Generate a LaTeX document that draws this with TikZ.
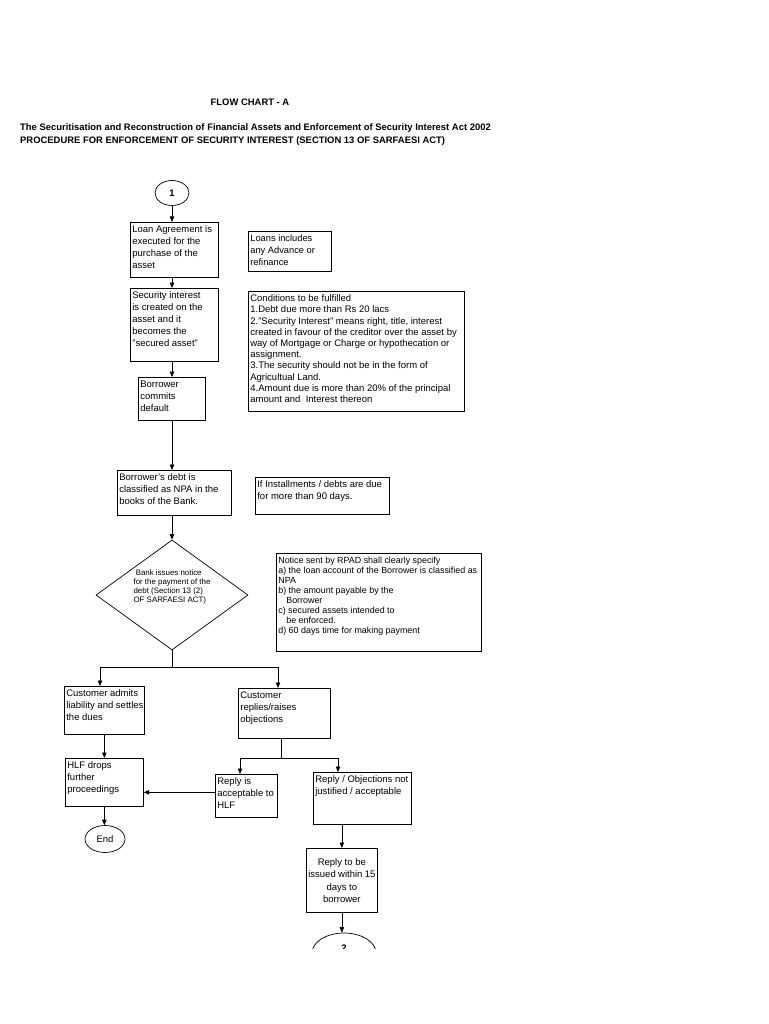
\documentclass[tikz,border=0pt]{standalone}
\usepackage{fontspec}
\setmainfont{Liberation Sans}
\usetikzlibrary{shapes.geometric, arrows.meta}

% text block of fixed size, set from the top left corner
\newcommand{\flowtext}[3]{\parbox[t][#2][t]{#1}{\raggedright\vspace*{1.5pt}#3}}
\newcommand{\boxfont}{\fontsize{9.5}{12}\selectfont}

\begin{document}
\begin{tikzpicture}[x=1pt, y=-1pt,
    every node/.style={font=\boxfont},
    flowbox/.style={draw, line width=0.7pt, inner sep=2pt, anchor=north west},
    terminal/.style={draw, ellipse, line width=0.7pt, inner sep=0pt, font=\boxfont\bfseries},
    decision/.style={draw, diamond, line width=0.7pt, inner sep=0pt,
      minimum width=152pt, minimum height=110pt},
    headtext/.style={font=\fontsize{9.43}{11}\selectfont\bfseries, inner sep=0pt},
    line/.style={line width=0.7pt},
    arr/.style={line, -{Triangle[length=5.5pt, width=4.5pt]}}]
  \useasboundingbox (0,0) rectangle (768,1024);

  % headings
  \node[headtext] (title) at (250,102) {FLOW CHART - A};
  \node[headtext, anchor=west] (act) at (20,128)
    {The Securitisation and Reconstruction of Financial Assets and Enforcement of Security Interest Act 2002};
  \node[headtext, anchor=west] (proc) at (20,141)
    {PROCEDURE FOR ENFORCEMENT OF SECURITY INTEREST (SECTION 13 OF SARFAESI ACT)};

  % main column
  \node[terminal, minimum width=34pt, minimum height=25pt] (c1) at (172,193) {1};
  \node[flowbox] (b1) at (130,222) {\flowtext{84pt}{51pt}{Loan Agreement is\\executed for the\\purchase of the\\asset}};
  \node[flowbox] (b2) at (130,288) {\flowtext{84pt}{69pt}{Security interest\\is created on the\\asset and it\\becomes the\\"secured asset"}};
  \node[flowbox] (b3) at (138,377) {\flowtext{63pt}{39pt}{Borrower\\commits\\default}};
  \node[flowbox] (b4) at (117,470) {\flowtext{110pt}{41pt}{Borrower's debt is\\classified as NPA in the\\books of the Bank.}};
  \node[decision, label={[font=\fontsize{7.9}{9}\selectfont, align=left, yshift=8pt]center:{%
      \ Bank issues notice\\for the payment of the\\debt (Section 13 (2)\\OF SARFAESI ACT)}}] (dia) at (172,595) {};

  % notes on the right
  \node[flowbox] (n1) at (248,231) {\flowtext{79pt}{36pt}{\fontsize{9.3}{12}\selectfont Loans includes\\any Advance or\\refinance}};
  \node[flowbox] (n2) at (248,291) {\flowtext{212pt}{116pt}{\fontsize{9.5}{11.2}\selectfont
    Conditions to be fulfilled\\
    1.Debt due more than Rs 20 lacs\\
    2."Security Interest" means right, title, interest\\
    created in favour of the creditor over the asset by\\
    way of Mortgage or Charge or hypothecation or\\
    assignment.\\
    3.The security should not be in the form of\\
    Agricultual Land.\\
    4.Amount due is more than 20\% of the principal\\
    amount and\ \ Interest thereon}};
  \node[flowbox] (n3) at (255,477) {\flowtext{130pt}{33pt}{If Installments / debts are due\\for more than 90 days.}};
  \node[flowbox] (n4) at (276,553) {\flowtext{201pt}{94pt}{\fontsize{8.9}{10}\selectfont
    Notice sent by RPAD shall clearly specify\\
    a) the loan account of the Borrower is classified as\\
    NPA\\
    b) the amount payable by the\\
    \hspace*{8pt}Borrower\\
    c) secured assets intended to\\
    \hspace*{8pt}be enforced.\\
    d) 60 days time for making payment}};

  % branches
  \node[flowbox] (b5) at (64,686) {\flowtext{76pt}{44pt}{Customer admits\\\mbox{liability and settles}\\the dues}};
  \node[flowbox] (b6) at (238,688) {\flowtext{88pt}{46pt}{Customer\\replies/raises\\objections}};
  \node[flowbox] (b7) at (65,758) {\flowtext{74pt}{44pt}{HLF drops\\further\\proceedings}};
  \node[flowbox] (b8) at (215,774) {\flowtext{58pt}{39pt}{Reply is\\acceptable to\\HLF}};
  \node[flowbox] (b9) at (313,772) {\flowtext{94pt}{48pt}{Reply / Objections not\\justified / acceptable}};
  \node[terminal, font=\boxfont, minimum width=40pt, minimum height=27pt] (end) at (105,839) {End};
  \node[flowbox] (b10) at (306,848) {\parbox[t][60pt][t]{67pt}{\centering\fontsize{9.5}{12.5}\selectfont
    \vspace*{8pt}Reply to be\\issued within 15\\days to\\borrower}};
  \begin{scope}
    \clip (0,0) rectangle (768,948);
    \node[terminal, minimum width=64pt, minimum height=40pt] (c2) at (344,953) {\raisebox{10pt}{2}};
  \end{scope}

  % junction points
  \coordinate (jl) at (100,667);
  \coordinate (jr) at (278,667);
  \coordinate (kl) at (240,758);
  \coordinate (km) at (281,758);
  \coordinate (kr) at (338,758);

  % connectors
  \draw[arr] (c1.south) -- (c1.south |- b1.north);
  \draw[arr] (b1.south -| c1.south) -- (b2.north -| c1.south);
  \draw[arr] (b2.south -| c1.south) -- (b3.north -| c1.south);
  \draw[arr] (b3.south -| c1.south) -- (b4.north -| c1.south);
  \draw[arr] (b4.south -| dia.north) -- (dia.north);
  \draw[line] (dia.south) -- (dia.south |- jl);
  \draw[line] (jl) -- (jr);
  \draw[arr] (jl) -- (jl |- b5.north);
  \draw[arr] (jr) -- (jr |- b6.north);
  \draw[line] (km |- b6.south) -- (km);
  \draw[line] (kl) -- (kr);
  \draw[arr] (kl) -- (kl |- b8.north);
  \draw[arr] (kr) -- (kr |- b9.north);
  \draw[arr] (b5.south) -- (b5.south |- b7.north);
  \draw[arr] ([yshift=3.5pt]b8.west) -- ([yshift=3.5pt]b8.west -| b7.east);
  \draw[arr] (b7.south) -- (b7.south |- end.north);
  \draw[arr] (b10.north |- b9.south) -- (b10.north);
  \draw[arr] (b10.south) -- (b10.south |- c2.north);
\end{tikzpicture}
\end{document}
